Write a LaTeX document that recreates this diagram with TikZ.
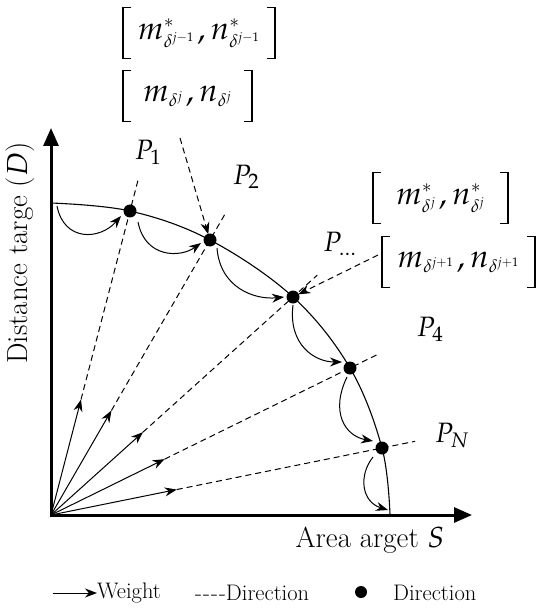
\documentclass[tikz,border=0pt]{standalone}
\usepackage{mathpazo}
\usetikzlibrary{arrows.meta,calc}
\DeclareMathSizes{32}{32}{18}{12.5}
\DeclareMathSizes{28}{28}{21}{15}
\DeclareMathSizes{29}{29}{20}{14}
\begin{document}
\begin{tikzpicture}[x=1pt,y=-1pt,
  axis/.style={line width=3pt,-{Triangle[length=18pt,width=15pt]}},
  curve/.style={line width=1.1pt},
  wt/.style={line width=1pt,-{Stealth[length=12pt,width=9pt]}},
  dir/.style={line width=1pt,dash pattern=on 6pt off 4pt},
  dot/.style={circle,fill=black,inner sep=0pt,minimum size=13pt},
  lab/.style={font=\fontsize{28}{32}\selectfont},
  axlab/.style={font=\fontsize{29}{34}\selectfont},
  leg/.style={font=\fontsize{22.5}{26}\selectfont},
  br/.style={font=\fontsize{32}{38}\selectfont,inner sep=0pt,minimum height=51pt},
  brk/.style={line width=1.5pt}
]
\useasboundingbox (0,0) rectangle (550,609);
% axes
\coordinate (O) at (51,515);
\coordinate (Ytop) at (51,128);
\coordinate (Xend) at (472,515);
\draw[axis] (51,516.5) -- (Ytop);
\draw[axis] (49.5,515) -- (Xend);
% dots
\node[dot] (P1) at (130,211) {};
\node[dot] (P2) at (210,240) {};
\node[dot] (P3) at (293,297) {};
\node[dot] (P4) at (350,368) {};
\node[dot] (P5) at (382,448) {};
% front curve
\coordinate (C0) at (51,203);
\coordinate (C6) at (390,515);
\draw[curve] plot[smooth,tension=0.6] coordinates {(C0) (P1.center) (P2.center) (P3.center) (P4.center) (P5.center) (C6)};
% rays
\foreach \i in {1,...,5}{
  \coordinate (A\i) at ($(O)!0.38!(P\i.center)$);
  \coordinate (E\i) at ($(O)!1.10!(P\i.center)$);
  \draw[wt] (O) -- (A\i);
  \draw[dir] (A\i) -- (E\i);
}
% curved weight arrows
\draw[wt] (57,206) .. controls (64,242) and (100,240) .. (121,216);
\draw[wt] (138,222) .. controls (145,258) and (180,258) .. (201,243);
\draw[wt] (217,248) .. controls (220,288) and (255,300) .. (284,297);
\draw[wt] (293,305) .. controls (288,345) and (315,362) .. (342,362);
\draw[wt] (347,377) .. controls (330,412) and (345,436) .. (373,441);
\draw[wt] (373,457) .. controls (358,476) and (362,502) .. (388,510);
% labels P
\node[lab] (L1) at (148,152) {$P_{1}$};
\node[lab] (L2) at (246,177) {$P_{2}$};
\node[lab] (L3) at (340,244) {$P_{\ldots}$};
\node[lab] (L4) at (430,329) {$P_{4}$};
\node[lab] (L5) at (452,435) {$P_{N}$};
% bracket labels
\node[br,minimum width=152pt] (B1) at (199,33) {$m^{*}_{\delta^{j-1}}\kern3pt,n^{*}_{\delta^{j-1}}$};
\node[br,minimum width=129pt] (B2) at (187.5,96) {$m_{\delta^{j}}\kern3pt,n_{\delta^{j}}$};
\node[br,minimum width=135pt] (B3) at (440.5,198) {$m^{*}_{\delta^{j}}\kern3pt,n^{*}_{\delta^{j}}$};
\node[br,minimum width=153pt] (B4) at (458.5,262) {$m_{\delta^{j+1}}\kern3pt,n_{\delta^{j+1}}$};
\foreach \b in {B1,B2,B3,B4}{
  \draw[brk] ([xshift=8pt]\b.north west) -- (\b.north west) -- (\b.south west) -- ([xshift=8pt]\b.south west);
  \draw[brk] ([xshift=-8pt]\b.north east) -- (\b.north east) -- (\b.south east) -- ([xshift=-8pt]\b.south east);
}
\coordinate (S1) at (180,138);
\coordinate (S2) at (378,255);
\draw[dir,-{Stealth[length=12pt,width=9pt]},shorten >=6pt] (S1) -- (P2.center);
\draw[dir,-{Stealth[length=12pt,width=9pt]},shorten >=6pt] (S2) -- (P3.center);
% axis labels
\node[axlab,rotate=90] (YL) at (20,253) {Distance targe ($D$)};
\node[axlab] (XL) at (370,540) {Area arget $S$};
% legend
\coordinate (G1) at (53,593);
\coordinate (G2) at (97,593);
\draw[wt] (G1) -- (G2);
\node[leg,anchor=west,inner sep=0pt] (GW) at (97,593) {Weight};
\node[leg,anchor=west,inner sep=0pt] (GD) at (195,593) {{-}\kern1.2pt{-}\kern1.2pt{-}\kern1.2pt{-}Direction};
\node[dot,minimum size=12pt] (GDot) at (361,592) {};
\node[leg,anchor=west,inner sep=0pt] (GD2) at (393,593) {Direction};
\end{tikzpicture}
\end{document}
